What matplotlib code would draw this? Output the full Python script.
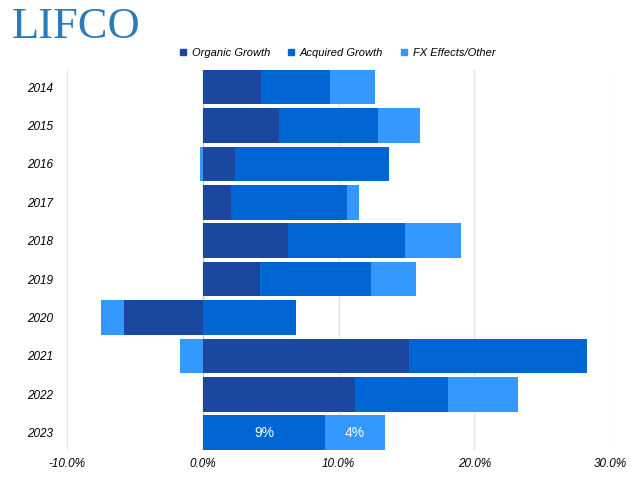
import matplotlib.pyplot as plt
from matplotlib.lines import Line2D
import numpy as np

plt.rcParams['font.family'] = ['Liberation Sans', 'DejaVu Sans']

years = ['2014', '2015', '2016', '2017', '2018', '2019', '2020', '2021', '2022', '2023']
organic = [4.3, 5.6, 2.4, 2.1, 6.3, 4.2, -5.8, 15.2, 11.2, 0.0]
acquired = [5.1, 7.3, 11.3, 8.5, 8.6, 8.2, 6.9, 13.1, 6.9, 9.0]
fx_other = [3.3, 3.1, -0.2, 0.9, 4.1, 3.3, -1.7, -1.7, 5.1, 4.4]

series = [
    ('Organic Growth', organic, '#1b47a1'),
    ('Acquired Growth', acquired, '#0066d4'),
    ('FX Effects/Other', fx_other, '#3399ff'),
]

fig = plt.figure(figsize=(6.4, 4.8), dpi=100)
ax = fig.add_axes([0.105, 0.0625, 0.848, 0.792])

y = np.arange(len(years))
pos = np.zeros(len(years))
neg = np.zeros(len(years))
for name, vals, color in series:
    vals = np.array(vals)
    left = np.where(vals >= 0, pos, neg)
    ax.barh(y, vals, left=left, height=0.9, color=color, edgecolor='none', zorder=3)
    pos = pos + np.where(vals > 0, vals, 0)
    neg = neg + np.where(vals < 0, vals, 0)

# value labels for 2023
i = years.index('2023')
ax.text(acquired[i] / 2, i, '9%', color='white', ha='center', va='center', fontsize=10, zorder=4)
ax.text(acquired[i] + fx_other[i] / 2, i, '4%', color='white', ha='center', va='center', fontsize=10, zorder=4)

ax.set_xlim(-10, 30)
ax.set_ylim(len(years) - 0.55, -0.45)
ax.set_xticks([-10, 0, 10, 20, 30])
ax.set_xticklabels(['-10.0%', '0.0%', '10.0%', '20.0%', '30.0%'], fontstyle='italic', fontsize=8.5)
ax.set_yticks(y)
ax.set_yticklabels(years, fontstyle='italic', fontsize=8.5)
ax.tick_params(axis='y', length=0, pad=10)
ax.tick_params(axis='x', length=0, pad=6)
ax.grid(axis='x', color='#e3e3e3', linewidth=1, zorder=0)
ax.axvline(0, color='#cccccc', linewidth=1, zorder=2)
for s in ax.spines.values():
    s.set_visible(False)

handles = [Line2D([], [], marker='s', linestyle='none', markersize=4, color=c) for _, _, c in series]
fig.legend(handles, [n for n, _, _ in series], loc='center', bbox_to_anchor=(0.525, 0.89),
           ncol=3, frameon=False, prop={'style': 'italic', 'size': 8},
           handletextpad=0.2, columnspacing=1.3, handlelength=1.2)

fig.text(0.018, 0.921, 'LIFCO', family='Liberation Serif', fontsize=32, color='#2b7bbb',
         va='baseline', ha='left')

fig.savefig('out.png')
